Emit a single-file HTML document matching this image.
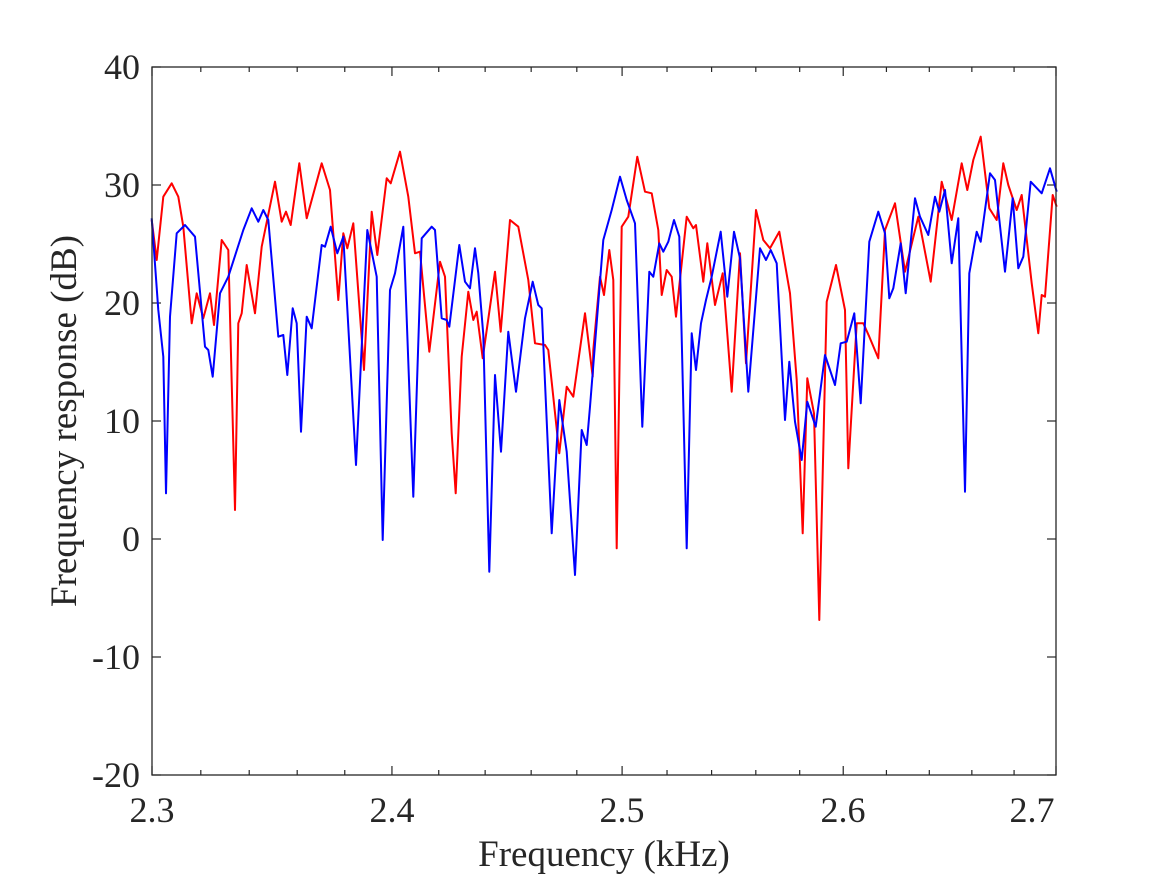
<!DOCTYPE html>
<html><head><meta charset="utf-8"><style>
body{margin:0;background:#fff}
svg{display:block}
text{font-family:"Liberation Serif",serif;fill:#262626}
</style></head><body>
<svg id="s" width="1167" height="875" viewBox="0 0 1167 875" xmlns="http://www.w3.org/2000/svg">
<rect width="1167" height="875" fill="#fff"/>
<g id="ax"></g>
<polyline id="r" fill="none" stroke="#ff0000" stroke-width="2" stroke-linejoin="round"/>
<polyline id="b" fill="none" stroke="#0000ff" stroke-width="2" stroke-linejoin="round"/>
<rect x="152" y="67" width="904" height="708" fill="none" stroke="#262626" stroke-width="1.3"/>
<g font-size="36" text-anchor="end">
<text x="140" y="79">40</text><text x="140" y="197">30</text><text x="140" y="315">20</text>
<text x="140" y="433">10</text><text x="140" y="551">0</text><text x="140" y="669">-10</text>
<text x="140" y="787">-20</text>
</g>
<g font-size="36" text-anchor="middle">
<text x="152" y="822">2.3</text><text x="392" y="822">2.4</text><text x="622" y="822">2.5</text>
<text x="843" y="822">2.6</text><text x="1032" y="822">2.7</text>
</g>
<g font-size="37" text-anchor="middle">
<text x="604" y="866">Frequency (kHz)</text>
<text transform="translate(76,421) rotate(-90)">Frequency response (dB)</text>
</g>
</svg>
<script>
function T(a,ox,oy){var o=[];for(var i=0;i<a.length;i+=2)o.push((ox+a[i]/3).toFixed(1)+","+(oy+a[i+1]/3).toFixed(1));return o;}
var r1=[35,210,50,330,70,140,95,100,115,140,130,230,155,520,170,430,190,505,210,430,222,525,245,270,265,300,285,1080,295,520,305,490,320,345,345,490,365,290,405,95,425,215,438,185,452,225,478,40,500,205,545,40,570,120,595,450,610,250,622,295,640,220,672,660,695,185,712,315,740,85,752,100,780,5,805,140,825,310,840,305,868,605,900,335,915,380,935,850,947,1030,965,620,985,425,1000,510,1010,485,1028,625,1065,365,1082,545,1110,210,1135,230,1165,390,1185,580,1215,585,1225,600,1258,910,1280,710,1300,740,1335,490,1358,680];
var r2=[10,690,30,470,42,525,58,390,70,480,80,1285,95,320,115,290,142,110,165,215,185,220,205,330,215,525,230,450,245,470,258,590,290,290,310,325,318,315,340,485,352,370,375,555,398,460,425,815,450,400,468,730,498,270,520,360,540,385,568,335,600,520,620,780,638,1240,652,775,672,880,688,1500,710,545,738,435,765,570,775,1045,800,610,820,610,838,650,865,715,885,330,915,250,945,455,985,290,1022,485,1055,185,1085,300,1115,130,1132,210,1150,120,1172,50,1198,265,1220,300,1240,130,1255,195,1280,270,1295,225,1325,490,1345,640,1355,525,1365,530,1388,225,1400,260];
var b1=[35,205,55,480,70,620,78,1030,90,500,110,250,135,225,165,260,195,590,205,600,218,680,240,430,265,380,310,240,335,175,355,215,370,180,385,210,415,560,430,555,442,675,458,475,470,520,483,845,500,500,515,535,545,285,555,290,572,230,592,310,610,260,648,945,682,240,710,380,728,1170,750,420,765,370,790,230,820,1040,845,265,875,230,885,240,905,505,920,510,928,530,958,285,975,395,990,415,1005,295,1015,370,1030,555,1048,1265,1065,675,1083,905,1105,545,1128,725,1155,505,1178,395,1195,465,1205,475,1235,1150,1258,750,1280,905,1305,1275,1325,840,1340,885];
var b2=[0,860,40,360,65,270,90,170,110,240,135,310,157,920,178,455,190,470,208,370,220,395,235,365,252,300,268,350,290,1285,305,640,318,750,333,610,348,540,365,470,392,335,412,530,432,335,450,415,475,815,510,385,528,420,542,390,560,430,585,900,598,725,615,905,635,1020,652,845,677,920,705,705,735,795,752,670,770,665,793,580,812,850,838,365,865,275,885,340,898,535,910,505,932,370,947,520,975,235,990,290,1015,345,1035,230,1048,275,1065,210,1085,430,1105,295,1125,1115,1138,460,1160,335,1172,365,1200,160,1215,180,1245,455,1268,235,1285,445,1300,410,1322,185,1355,220,1380,145,1400,215];
document.getElementById('r').setAttribute('points',T(r1,140,150).concat(T(r2,590,120)).join(' '));
document.getElementById('b').setAttribute('points',T(b1,140,150).concat(T(b2,590,120)).join(' '));
var g='',L=Math.log(2.7/2.3);
for(var i=0;i<=20;i++){var f=2.3+i*0.02,x=152+904*Math.log(f/2.3)/L,len=(i%5==0)?9:5;
g+='<line x1="'+x+'" x2="'+x+'" y1="775" y2="'+(775-len)+'" stroke="#262626" stroke-width="1.2"/>';
g+='<line x1="'+x+'" x2="'+x+'" y1="67" y2="'+(67+len)+'" stroke="#262626" stroke-width="1.2"/>';}
for(var j=0;j<=6;j++){var y=67+j*118;
g+='<line x1="152" x2="161" y1="'+y+'" y2="'+y+'" stroke="#262626" stroke-width="1.2"/>';
g+='<line x1="1047" x2="1056" y1="'+y+'" y2="'+y+'" stroke="#262626" stroke-width="1.2"/>';}
document.getElementById('ax').innerHTML=g;
</script>
</body></html>
